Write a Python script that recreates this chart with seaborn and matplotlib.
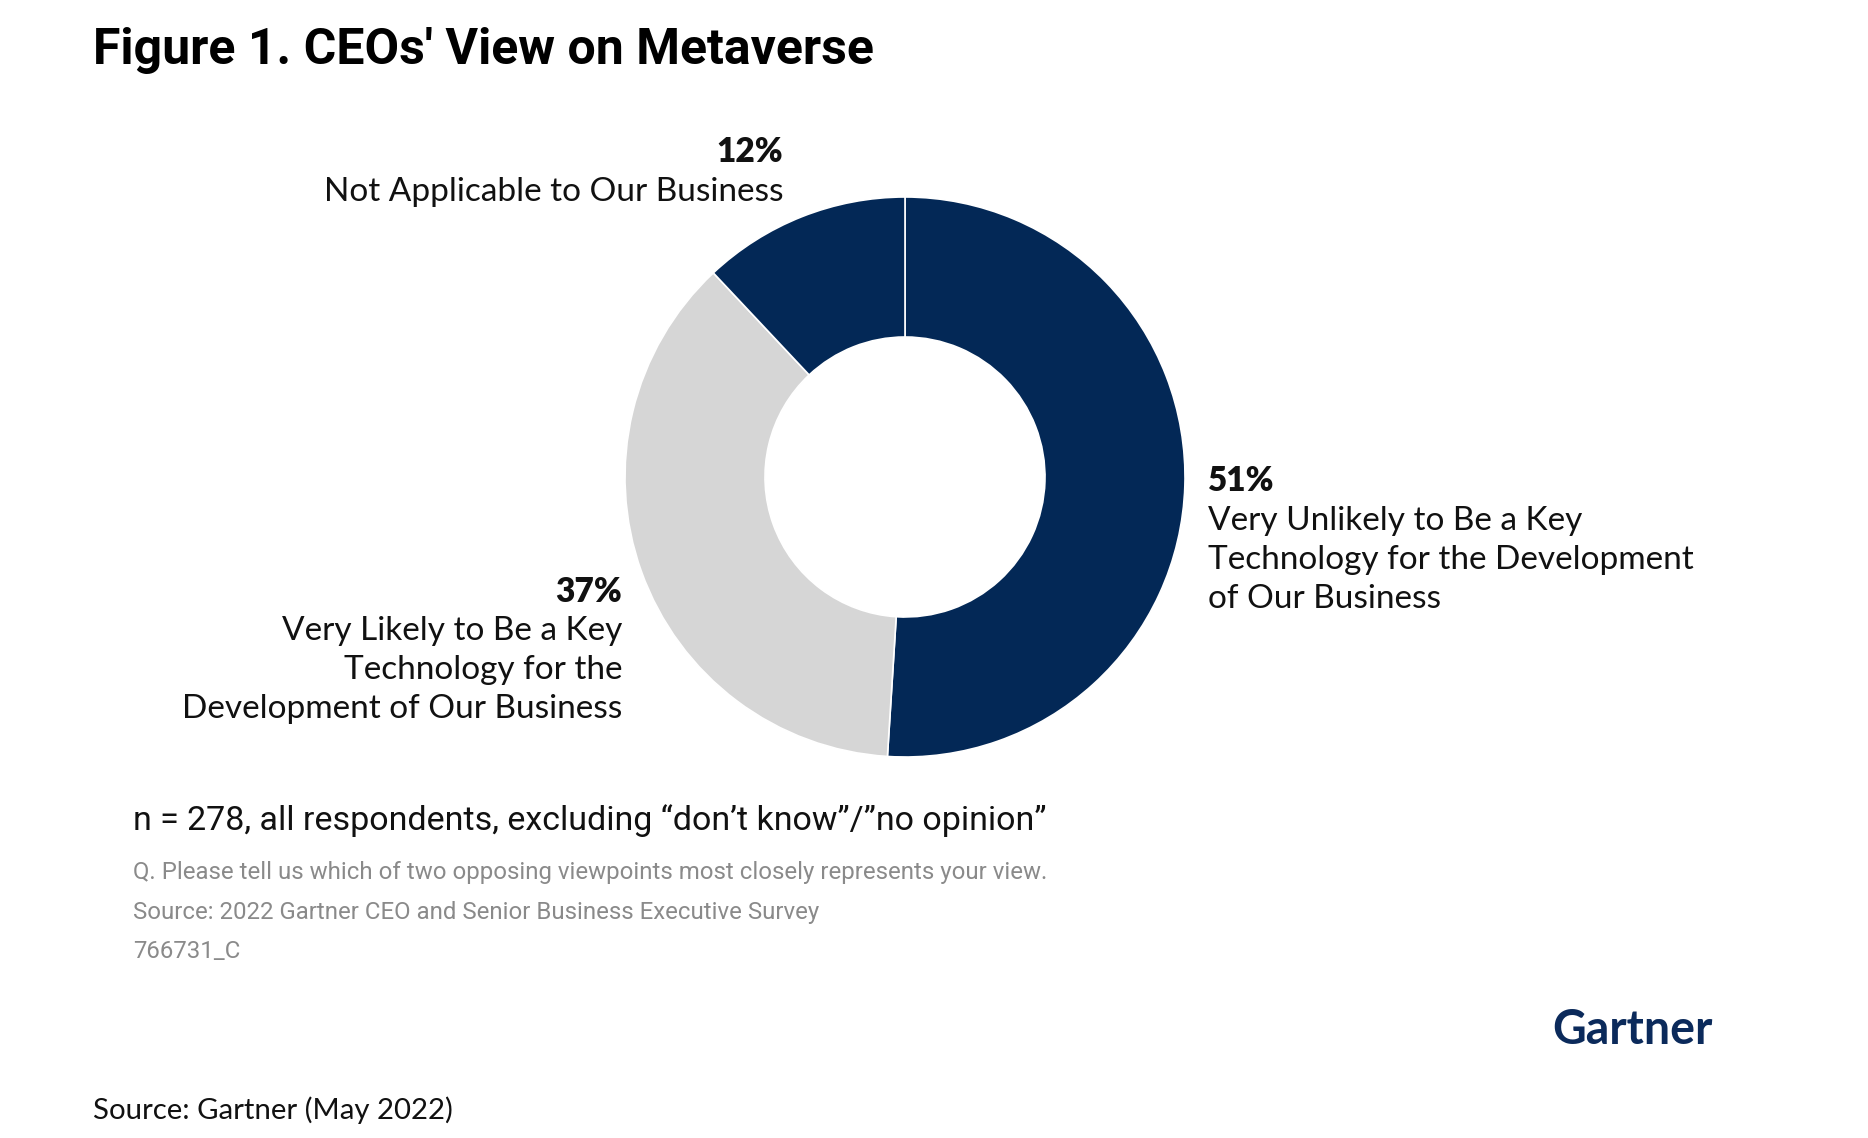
import matplotlib
matplotlib.use("Agg")
import matplotlib.pyplot as plt
import seaborn as sns

# data
categories = ["Very Unlikely to Be a Key\nTechnology for the Development\nof Our Business",
              "Very Likely to Be a Key\nTechnology for the\nDevelopment of Our Business",
              "Not Applicable to Our Business"]
values = [51, 37, 12]
colors = ["#032856", "#d6d6d6", "#032856"]

W, H = 1868, 1138


def fx(x):
	return x / W


def fy(y):
	return 1 - y / H


sns.set_theme(style="white")
plt.rcParams['font.family'] = ['Lato', 'DejaVu Sans']

fig = plt.figure(figsize=(W / 100, H / 100), dpi=100)
fig.patch.set_facecolor("white")

# donut, centre (905, 477) px, outer radius 280 px
cx, cy, r = 905, 477, 280
ax = fig.add_axes([fx(cx - r), fy(cy + r), 2 * r / W, 2 * r / H])
ax.pie(values, colors=colors, startangle=90, counterclock=False,
	   wedgeprops=dict(width=0.5, edgecolor="white", linewidth=1.2))
ax.set_xlim(-1, 1)
ax.set_ylim(-1, 1)
ax.set_axis_off()

lab_size = 24
step = 39

# 51% label (right side)
fig.text(fx(1208), fy(481), "%d%%" % values[0], fontsize=lab_size, fontweight="heavy",
		 ha="left", va="center", color="#111111")
for i, line in enumerate(categories[0].split("\n")):
	fig.text(fx(1208), fy(521 + i * step), line, fontsize=lab_size, ha="left", va="center", color="#111111")

# 37% label (left side)
fig.text(fx(622), fy(592), "%d%%" % values[1], fontsize=lab_size, fontweight="heavy",
		 ha="right", va="center", color="#111111")
for i, line in enumerate(categories[1].split("\n")):
	fig.text(fx(622), fy(631 + i * step), line, fontsize=lab_size, ha="right", va="center", color="#111111")

# 12% label (top)
fig.text(fx(783), fy(152), "%d%%" % values[2], fontsize=lab_size, fontweight="heavy",
		 ha="right", va="center", color="#111111")
fig.text(fx(783), fy(192), categories[2], fontsize=lab_size, ha="right", va="center", color="#111111")

# title
fig.text(fx(93), fy(50), "Figure 1. CEOs' View on Metaverse", fontsize=36, fontweight="bold",
		 family="Roboto", ha="left", va="center", color="#000000")

# notes
fig.text(fx(133), fy(821), "n = 278, all respondents, excluding \u201cdon\u2019t know\u201d/\u201dno opinion\u201d",
		 fontsize=24.5, family="Roboto", ha="left", va="center", color="#111111")
notes = ["Q. Please tell us which of two opposing viewpoints most closely represents your view.",
		 "Source: 2022 Gartner CEO and Senior Business Executive Survey",
		 "766731_C"]
for i, line in enumerate([873, 913, 951]):
	fig.text(fx(133), fy(line), notes[i], fontsize=17.3, family="Roboto", ha="left", va="center", color="#8a8a8a")

fig.text(fx(1552), fy(1030), "Gartner", fontsize=33.5, fontweight="bold", family="Lato",
		 ha="left", va="center", color="#0b2a5b")

fig.text(fx(93), fy(1110), "Source: Gartner (May 2022)", fontsize=21.2, ha="left", va="center", color="#111111")

fig.savefig("out.png", dpi=100, facecolor="white")
